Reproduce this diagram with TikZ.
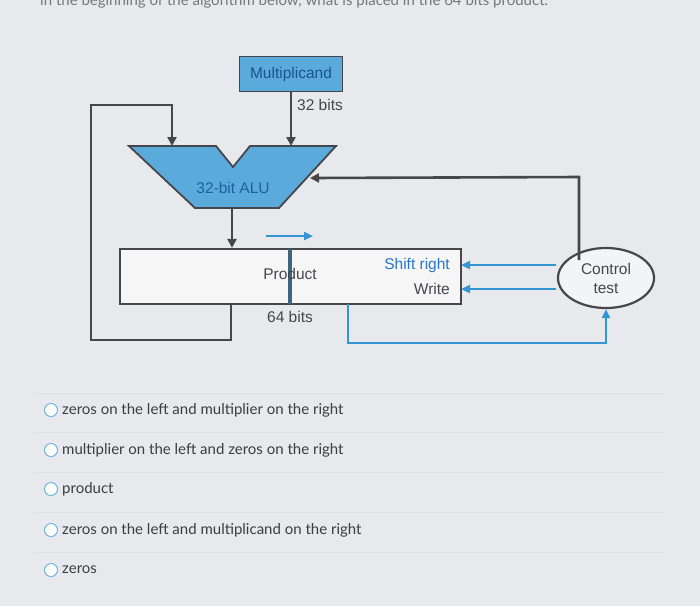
\documentclass[tikz,border=0pt]{standalone}
\usepackage{fontspec}
\setmainfont{Liberation Sans}
\newfontfamily\optfont{Lato}
\usetikzlibrary{shapes.geometric,arrows.meta}
\definecolor{bg}{RGB}{232,233,236}
\definecolor{boxblue}{RGB}{90,170,220}
\definecolor{txtblue}{RGB}{40,120,200}
\definecolor{lnblue}{RGB}{50,150,210}
\definecolor{dk}{RGB}{70,70,75}
\definecolor{opt}{RGB}{60,60,65}
\tikzset{
 gl/.style={draw=dk,line width=2.6pt},
 bl/.style={draw=lnblue,line width=2.3pt},
 ga/.style={gl,-{Triangle[length=9pt,width=9pt]}},
 ba/.style={bl,-{Triangle[length=9pt,width=8pt]}},
 lab/.style={font=\fontsize{15.5}{17}\selectfont,text=dk,inner sep=0pt},
 opttxt/.style={font=\optfont\fontsize{15}{17}\selectfont,text=opt,anchor=west,inner sep=0pt},
 radio/.style={draw=lnblue!70,line width=1pt,fill=white,circle,minimum size=13pt,inner sep=0pt},
 sep/.style={draw=gray!25,line width=0.8pt}
}
\begin{document}
\begin{tikzpicture}[x=1pt,y=-1pt]
\fill[bg] (0,0) rectangle (700,606);
\useasboundingbox (0,0) rectangle (700,606);
\begin{scope}
\clip (0,0) rectangle (700,20);
\node[opttxt,anchor=west,text=opt!70] (top) at (40,1) {in the beginning of the algorithm below, what is placed in the 64 bits product.};
\end{scope}
% Multiplicand
\node[draw=dk,line width=1.8pt,fill=boxblue,minimum width=103pt,minimum height=35pt,inner sep=0pt,font=\fontsize{15.5}{17}\selectfont,text=txtblue!70!black] (mc) at (291,74) {Multiplicand};
\node[lab] (b32) at (320,105) {32 bits};
% ALU
\draw[dk,line width=1.8pt,fill=boxblue] (129,146) -- (216,146) -- (233,167) -- (250,146) -- (336,146) -- (279,208) -- (195,208) -- cycle;
\node[lab,text=txtblue!80!black] (alu) at (233,188) {32-bit ALU};
\coordinate (aluin1) at (172,146);
\coordinate (aluin2) at (291,146);
\coordinate (aluR) at (310,178);
\coordinate (aluout) at (232,208);
% Product
\node[draw=dk,line width=2.2pt,fill=white!60!bg,minimum width=341pt,minimum height=55pt,inner sep=0pt] (prod) at (290.5,276.5) {};
\draw[draw=dk!60!lnblue,line width=3.5pt] (290,249) -- (290,304);
\node[lab] (pt) at (290,274) {Product};
\node[lab] (b64) at (290,317) {64 bits};
\node[lab,text=txtblue,anchor=east] (sr) at (450,265) {Shift right};
\node[lab,anchor=east] (wr) at (450,289) {Write};
% Control
\node[draw=dk,line width=2.2pt,ellipse,minimum width=96pt,minimum height=60pt,inner sep=0pt,fill=white!50!bg] (ct) at (606,278) {};
\node[lab,align=center,font=\fontsize{15.5}{19}\selectfont] (ctt) at (606,278) {Control\\test};
% connectors
\draw[ga] (mc.south -| aluin2) -- (aluin2);
\draw[ga] (aluout) -- (aluout |- prod.north);
\draw[ga] (231,304) -- (231,340) -- (91,340) -- (91,105) -- (172,105) -- (aluin1);
\draw[ga] (579,260) -- (579,177) -- (aluR);
\draw[ba] (ct.west |- 0,265) ++(-1,0) -- (461,265);
\draw[ba] (ct.west |- 0,289) ++(-1,0) -- (461,289);
\draw[ba] (348,304) -- (348,343) -- (606,343) -- (ct.south);
\draw[ba] (266,236) -- (313,236);
% options
\foreach \y in {393,432,472,512,552} \draw[sep] (35,\y) -- (665,\y);
\node[radio] (r1) at (51,410) {};
\node[opttxt] (o1) at (62,410) {zeros on the left and multiplier on the right};
\node[radio] (r2) at (51,450) {};
\node[opttxt] (o2) at (62,450) {multiplier on the left and zeros on the right};
\node[radio] (r3) at (51,489) {};
\node[opttxt] (o3) at (62,489) {product};
\node[radio] (r4) at (51,530) {};
\node[opttxt] (o4) at (62,530) {zeros on the left and multiplicand on the right};
\node[radio] (r5) at (51,570) {};
\node[opttxt] (o5) at (62,570) {zeros};
\end{tikzpicture}
\end{document}
